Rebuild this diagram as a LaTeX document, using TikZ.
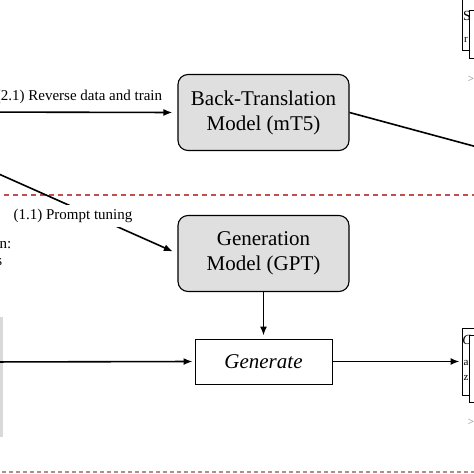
\documentclass[tikz,border=0pt]{standalone}
\usepackage{fontspec}
\setmainfont{Liberation Serif}
\usetikzlibrary{arrows.meta}

\definecolor{sepred}{RGB}{192,80,77}
\definecolor{seprose}{RGB}{182,138,134}

\begin{document}
\begin{tikzpicture}[x=1pt, y=-1pt, line width=1.6pt,
  model/.style={draw, rounded corners=10pt, fill=gray!25, line width=1.1pt, minimum width=171pt, minimum height=76pt, align=center, font=\fontsize{21}{25}\selectfont},
  task/.style={draw, fill=white, line width=0.9pt, minimum width=137pt, minimum height=45pt, font=\fontsize{21}{25}\selectfont\itshape},
  lbl/.style={font=\fontsize{15}{18}\selectfont, inner sep=4pt},
  arr/.style={-{Latex[length=9pt,width=7pt]}, shorten >=5pt},
  sample/.style={draw, fill=white, line width=0.9pt, minimum width=40pt},
  frag/.style={inner sep=0pt, font=\fontsize{11}{11}\selectfont}]
  \useasboundingbox (0,0) rectangle (474,474);
  \draw[sepred, line width=1.5pt, dash pattern=on 5pt off 4pt] (-5,195) -- (480,195);
  \draw[seprose, line width=1.5pt, dash pattern=on 4pt off 3pt] (-5,472) -- (480,472);
  \draw[gray!30, line width=3pt] (1.5,317) -- (1.5,437);

  \node[model] (bt) at (263.5,112.5) {Back-Translation\\Model (mT5)};
  \node[model] (gen) at (263.5,253.5) {Generation\\Model (GPT)};
  \node[task] (gnr) at (263.5,361.5) {Generate};

  \node[sample, minimum height=70pt] (outA) at (482,15) {};
  \node[frag, font=\fontsize{14}{14}\selectfont] (fS) at (467,16) {S};
  \node[frag] (fr) at (466,40) {r};
  \node[sample, minimum height=48pt] (inA) at (489,34) {};
  \node[frag, gray] (mA) at (471,79) {>};
  \node[sample, minimum height=67pt] (outB) at (482,361.5) {};
  \node[frag, font=\fontsize{14}{14}\selectfont\itshape] (fC) at (467,340) {C};
  \node[frag] (fa) at (466,363) {a};
  \node[frag] (fz) at (466,378) {z};
  \node[sample, minimum height=67pt] (inB) at (489,368.5) {};
  \node[frag, gray] (mB) at (471,422) {>};

  \node[lbl, anchor=east] (fn) at (16,245) {n:};
  \node[lbl, anchor=east] (fs) at (7,262) {s};

  \coordinate (src21) at (-40,112);
  \coordinate (src11) at (-100,130);
  \coordinate (srcin) at (-20,362);
  \coordinate (dstbt) at (540,164);

  \draw[arr] (src21) -- (bt.west);
  \node[lbl] (l21) at (79,97) {(2.1) Reverse data and train};
  \draw[arr] (src11) -- (gen.west);
  \node[lbl, fill=white] (l11) at (73,216) {(1.1) Prompt tuning};
  \draw (bt.east) -- (dstbt);
  \draw[arr, shorten >=3pt] (gen.south) -- (gnr.north);
  \draw[arr, shorten >=2pt] (srcin) -- (gnr.west);
  \draw[arr, shorten >=2pt] (gnr.east) -- (outB.west);
\end{tikzpicture}
\end{document}
